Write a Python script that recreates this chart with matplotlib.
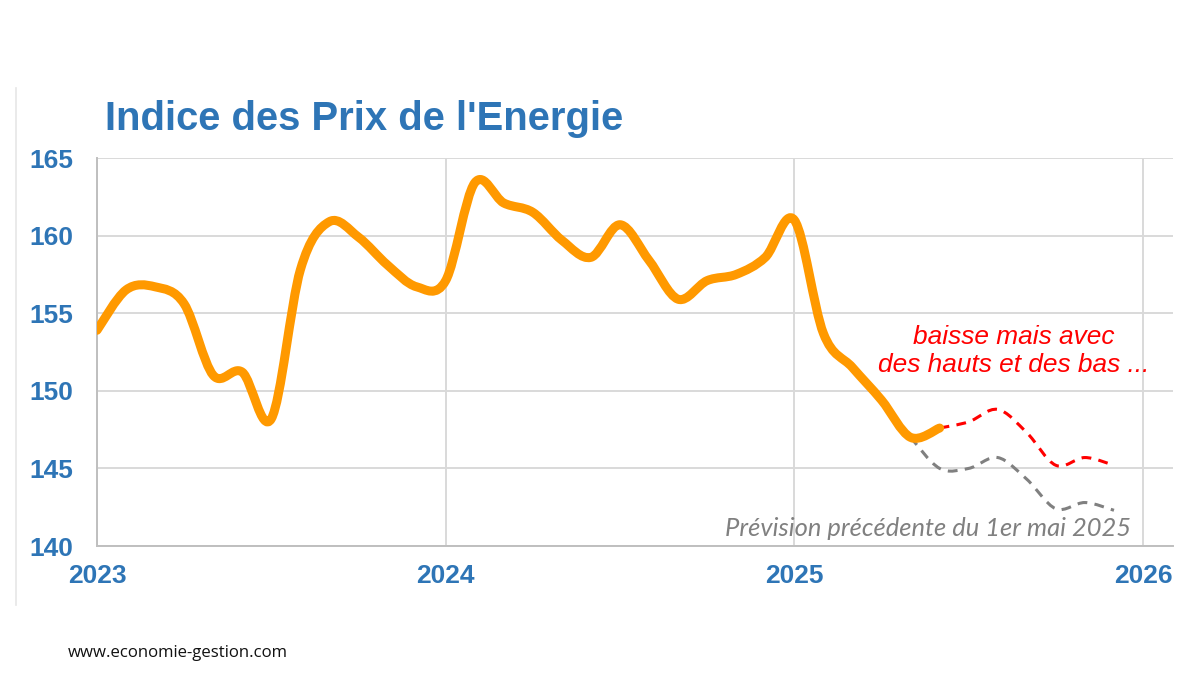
import numpy as np
import matplotlib
matplotlib.use("Agg")
import matplotlib.pyplot as plt
from matplotlib.path import Path
from matplotlib.patches import PathPatch
from matplotlib.lines import Line2D

# ---------------- data ----------------
start_year = 2023
# monthly index values, Jan 2023 .. Jun 2025 (observed)
observed = [153.9, 156.5, 156.7, 155.6, 151.0, 151.2, 148.2, 157.8, 160.9, 159.9, 158.1, 156.7,
            157.1, 163.4, 162.1, 161.5, 159.7, 158.6, 160.7, 158.4, 155.9, 157.1, 157.5, 158.6,
            161.0, 153.7, 151.5, 149.4, 147.0, 147.6]
# new forecast, Jun 2025 .. Dec 2025
forecast_new = [147.6, 148.0, 148.8, 147.3, 145.2, 145.7, 145.2]
forecast_new_start = 29  # month index (Jun 2025)
# previous forecast (1 May 2025), May 2025 .. Dec 2025
forecast_old = [147.0, 145.0, 145.0, 145.7, 144.3, 142.4, 142.8, 142.3]
forecast_old_start = 28  # month index (May 2025)

year_ticks = [2023, 2024, 2025, 2026]
y_ticks = [140, 145, 150, 155, 160, 165]

title = "Indice des Prix de l'Energie"
note_red = "baisse mais avec\ndes hauts et des bas ..."
note_grey = "Prévision précédente du 1er mai 2025"
site = "www.economie-gestion.com"

BLUE = "#2E75B6"
ORANGE = "#FF9900"


def months_to_x(start, n):
    return [start_year + (start + i) / 12.0 for i in range(n)]


def smooth_path(xs, ys):
    pts = np.column_stack([xs, ys]).astype(float)
    n = len(pts)
    verts = [pts[0]]
    codes = [Path.MOVETO]
    for i in range(n - 1):
        p0 = pts[i - 1] if i > 0 else pts[i]
        p1 = pts[i]
        p2 = pts[i + 1]
        p3 = pts[i + 2] if i + 2 < n else pts[i + 1]
        c1 = p1 + (p2 - p0) / 6.0
        c2 = p2 - (p3 - p1) / 6.0
        verts += [c1, c2, p2]
        codes += [Path.CURVE4] * 3
    return Path(verts, codes)


fig = plt.figure(figsize=(12, 6.75), dpi=100)
W, H = 1200, 675
ax = fig.add_axes([97 / W, 1 - 546 / H, (1173 - 97) / W, (546 - 158) / H])

ax.set_xlim(2023, 2026 + 30 / 349)
ax.set_ylim(140, 165)

# series
ax.add_patch(PathPatch(smooth_path(months_to_x(forecast_old_start, len(forecast_old)), forecast_old),
                       facecolor="none", edgecolor="#808080", lw=2.2,
                       linestyle=(0, (3.2, 2.4)), capstyle="butt", zorder=3))
ax.add_patch(PathPatch(smooth_path(months_to_x(forecast_new_start, len(forecast_new)), forecast_new),
                       facecolor="none", edgecolor="#FF0000", lw=2.2,
                       linestyle=(0, (3.2, 2.4)), capstyle="butt", zorder=4))
ax.add_patch(PathPatch(smooth_path(months_to_x(0, len(observed)), observed),
                       facecolor="none", edgecolor=ORANGE, lw=6.5,
                       capstyle="round", joinstyle="round", zorder=5))

# grid & axes
ax.set_yticks(y_ticks)
ax.set_xticks(year_ticks)
ax.set_xticklabels([str(y) for y in year_ticks])
ax.grid(True, color="#D9D9D9", lw=1.4)
ax.set_axisbelow(True)
for s in ["top", "right"]:
    ax.spines[s].set_visible(False)
for s in ["left", "bottom"]:
    ax.spines[s].set_color("#BFBFBF")
    ax.spines[s].set_linewidth(1.4)
ax.tick_params(length=0)
ax.tick_params(axis="y", pad=17)
ax.tick_params(axis="x", pad=13)
for lab in ax.get_yticklabels() + ax.get_xticklabels():
    lab.set_fontfamily("Liberation Sans")
    lab.set_fontweight("bold")
    lab.set_fontsize(19)
    lab.set_color(BLUE)

# texts
fig.text(105 / W, 1 - 130 / H, title, fontfamily="Liberation Sans", fontweight="bold",
         fontsize=28.8, color=BLUE, ha="left", va="baseline")
fig.text(1014 / W, 1 - 351 / H, note_red, fontfamily="Liberation Sans", style="italic",
         fontsize=18.9, color="#FF0000", ha="center", va="center", linespacing=1.25)
fig.text(1131 / W, 1 - 536 / H, note_grey, fontfamily="Lato", style="italic",
         fontsize=18.4, color="#808080", ha="right", va="baseline")
fig.text(68 / W, 1 - 657 / H, site, fontfamily="Open Sans", fontsize=12.1,
         color="#111111", ha="left", va="baseline")

# faint left frame line
fig.add_artist(Line2D([16 / W, 16 / W], [1 - 605 / H, 1 - 88 / H], transform=fig.transFigure,
                      color="#E6E6E6", lw=1.2))

fig.savefig("out.png", dpi=100, facecolor="white")
